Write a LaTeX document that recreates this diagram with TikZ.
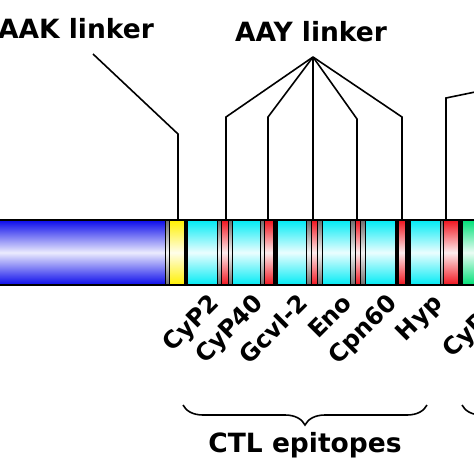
\documentclass[tikz,border=0pt]{standalone}
\usepackage{fontspec}
\setmainfont{DejaVu Sans}
\usetikzlibrary{positioning, decorations.pathreplacing}

\definecolor{barblue}{RGB}{10,10,235}
\definecolor{barcyan}{RGB}{0,235,245}
\definecolor{barred}{RGB}{240,20,30}
\definecolor{baryellow}{RGB}{255,240,0}
\definecolor{bargreen}{RGB}{0,225,120}
\definecolor{bargray}{RGB}{110,110,110}

\begin{document}
\begin{tikzpicture}[x=1pt, y=-1pt,
leader/.style={draw, line width=1.6pt},
seg/.style={draw, line width=0.9pt, top color=#1, bottom color=#1, middle color=#1!8!white},
tag/.style={font=\bfseries\fontsize{24}{24}\selectfont, rotate=45, anchor=north east, inner sep=0pt},
head/.style={font=\bfseries\fontsize{26.5}{26.5}\selectfont, inner sep=0pt, anchor=base},
brace/.style={decorate, decoration={brace, mirror, amplitude=20pt}, line width=1.6pt}]

\useasboundingbox (0,0) rectangle (474,474);
\clip (0,0) rectangle (474,474);

\node[head] (aak) at (76,38) {AAK linker};
\node[head] (aay) at (311,41) {AAY linker};

\coordinate (aakfoot) at (93,54);
\coordinate (aaytop)  at (313,57);
\coordinate (outtop)  at (480,91);

% leader lines
\draw[leader] (aakfoot) -- (178,134) -- (178,222);
\draw[leader] (aaytop) -- (226,117) -- (226,222);
\draw[leader] (aaytop) -- (268,117) -- (268,222);
\draw[leader] (aaytop) -- (313,222);
\draw[leader] (aaytop) -- (357,119) -- (357,222);
\draw[leader] (aaytop) -- (402,117) -- (402,222);
\draw[leader] (outtop) -- (446,98) -- (446,222);

% the bar
\foreach \a/\b/\c in {-5/165/barblue, 165/169/bargray, 169/184/baryellow,
  187/217/barcyan, 217/221/bargray, 221/228/barred, 228/232/bargray,
  232/260/barcyan, 260/264/bargray, 264/273/barred,
  277/306/barcyan, 306/311/bargray, 311/317/barred, 317/322/bargray,
  322/350/barcyan, 350/355/bargray, 355/360/barred, 360/365/bargray,
  365/395/barcyan, 398/405/barred,
  410/440/barcyan, 440/443/bargray, 443/458/barred, 462/480/bargreen}
  \path[seg=\c] (\a,220) rectangle (\b,285);

\foreach \a/\b in {184/187, 273/277, 395/398, 405/410, 458/462}
  \fill (\a,220) rectangle (\b,285);

\draw[line width=1.5pt] (-5,220) -- (480,220) (-5,285) -- (480,285);

% epitope names
\node[tag] (t1) at (208,292) {CyP2};
\node[tag] (t2) at (252,292) {CyP40};
\node[tag] (t3) at (297,292) {GcvI-2};
\node[tag] (t4) at (341,292) {Eno};
\node[tag] (t5) at (386,292) {Cpn60};
\node[tag] (t6) at (431,292) {Hyp};
\node[tag, anchor=north west] (t7) at ([xshift=280pt, yshift=-6pt]t1.north west) {CyP};

\draw[brace] (183,405) -- (427,405);
\draw[brace] (462,405) -- (720,405);
\node[head] (ctl) at (305,452) {CTL epitopes};

\end{tikzpicture}
\end{document}
